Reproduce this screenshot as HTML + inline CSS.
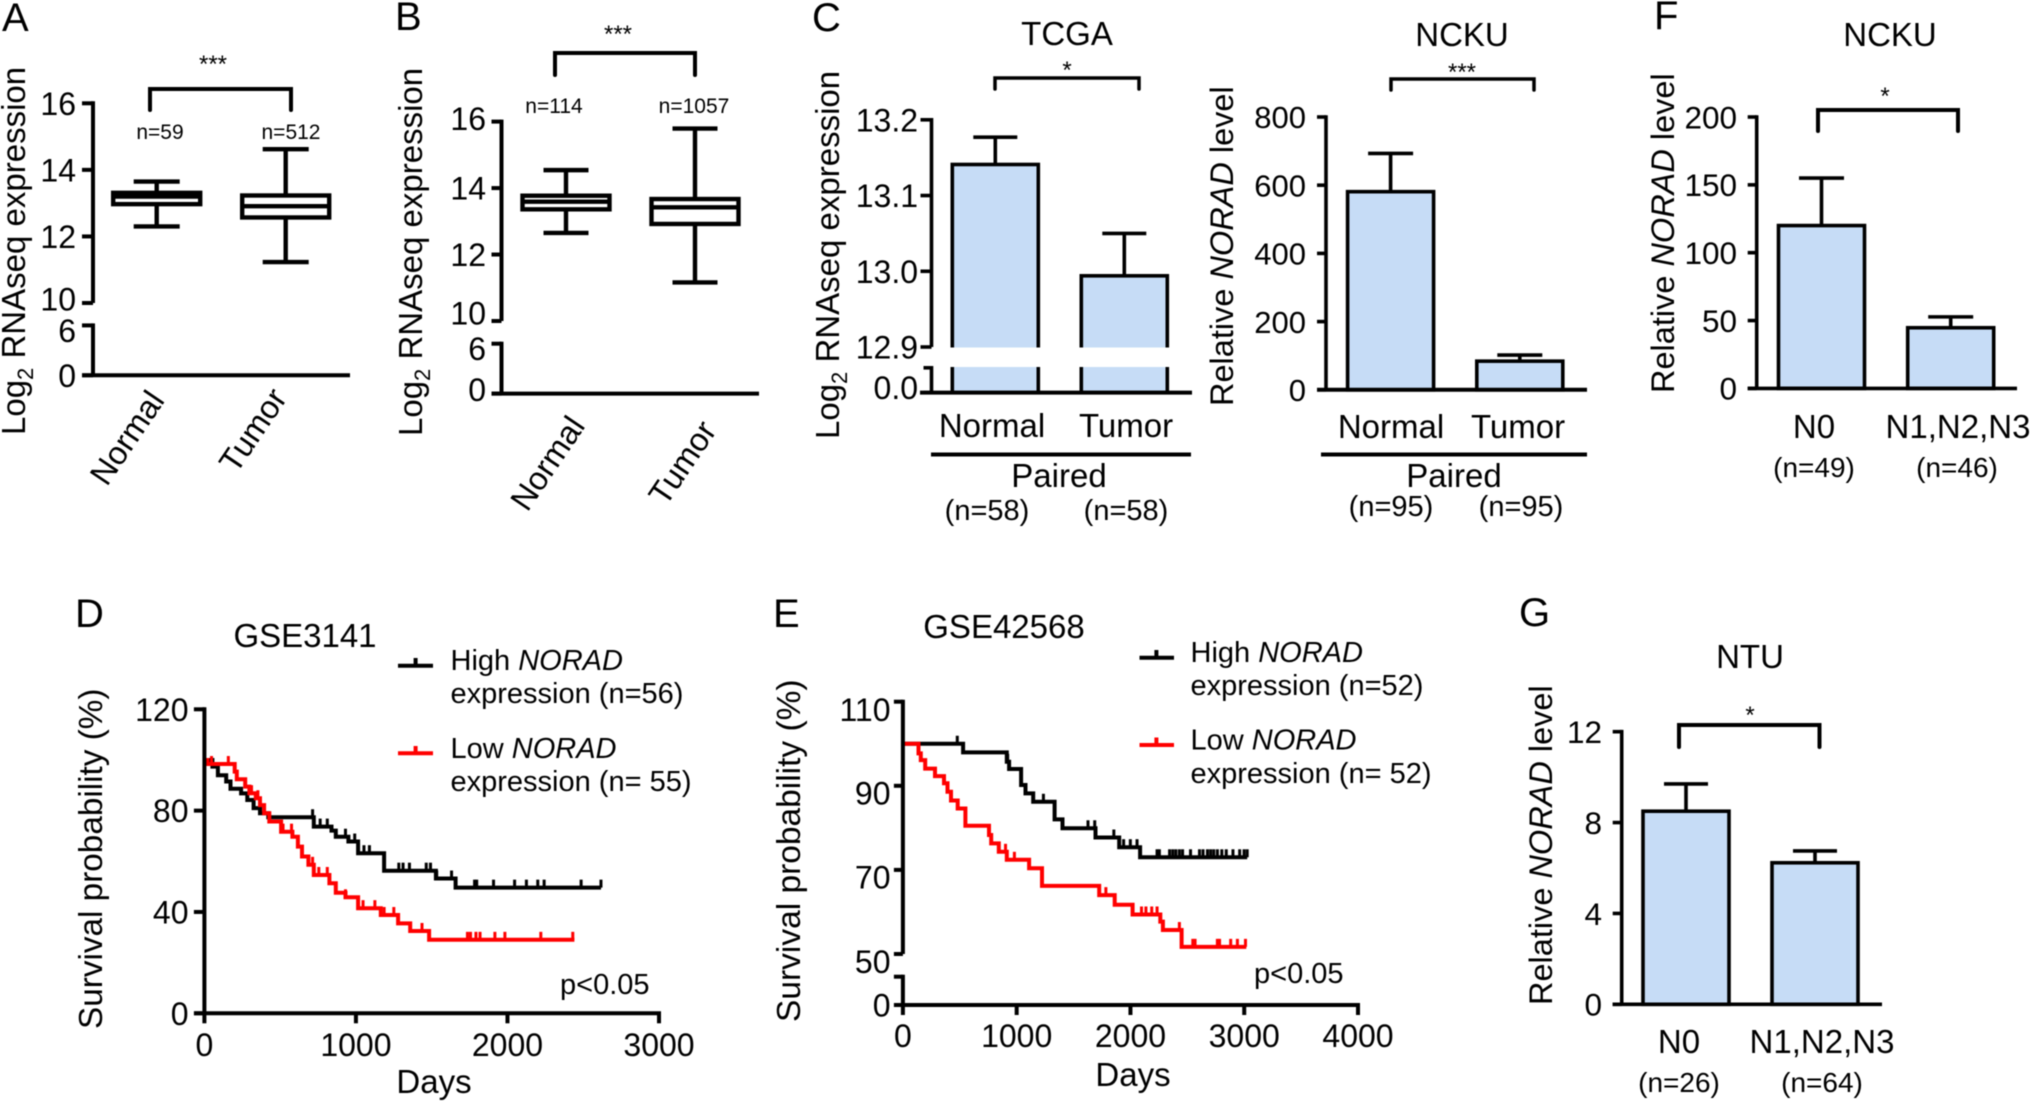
<!DOCTYPE html>
<html lang="en">
<head>
<meta charset="utf-8">
<title>NORAD expression figure</title>
<style>
html,body{margin:0;padding:0;background:#fff;width:2030px;height:1102px;overflow:hidden}
svg{display:block;filter:blur(0.4px)}
text{font-family:"Liberation Sans",sans-serif;fill:#000}
.letter{font-size:40px}
.title{font-size:33px;text-anchor:middle}
.ylab{font-size:33.3px}
.lab{font-size:33px;text-anchor:middle}
.cnt{font-size:29px;text-anchor:middle}
.sm{font-size:21px;text-anchor:middle}
.star{font-size:24px;text-anchor:middle}
.leg{font-size:29px}
.br{fill:none;stroke:#000;stroke-width:4;stroke-linecap:round;stroke-linejoin:miter}
</style>
</head>
<body>
<svg id="figure" xmlns="http://www.w3.org/2000/svg" width="2030" height="1102" viewBox="0 0 2030 1102">
<rect width="2030" height="1102" fill="#fff"/>

<g id="panel-a">
  <text class="letter" x="2" y="31">A</text>
  <text class="ylab" transform="translate(25,435) rotate(-90)" style="font-size:33px">Log<tspan dy="8" style="font-size:22px">2</tspan><tspan dy="-8"> RNAseq expression</tspan></text>
  <path class="br" d="M150 110V89H291V110"/>
  <text class="star" x="213" y="72">***</text>
  <text class="sm" x="160" y="139">n=59</text>
  <text class="sm" x="291" y="139">n=512</text>
  <text class="lab" style="font-size:32.5px;text-anchor:end" transform="translate(165.5,400.5) rotate(-56)">Normal</text>
  <text class="lab" style="font-size:32.5px;text-anchor:end" transform="translate(288,398) rotate(-56)">Tumor</text>
</g>

<g id="panel-b">
  <text class="letter" x="395" y="30">B</text>
  <text class="ylab" transform="translate(422,436) rotate(-90)" style="font-size:33px">Log<tspan dy="8" style="font-size:22px">2</tspan><tspan dy="-8"> RNAseq expression</tspan></text>
  <path class="br" d="M555 75V53H695V75"/>
  <text class="star" x="618" y="42">***</text>
  <text class="sm" x="554" y="113">n=114</text>
  <text class="sm" x="694" y="113">n=1057</text>
  <text class="lab" style="font-size:32.5px;text-anchor:end" transform="translate(586,426) rotate(-56)">Normal</text>
  <text class="lab" style="font-size:32.5px;text-anchor:end" transform="translate(717.5,430.5) rotate(-56)">Tumor</text>
</g>

<g id="panel-c1">
  <text class="letter" x="812" y="31">C</text>
  <text class="title" x="1067" y="45">TCGA</text>
  <text class="ylab" transform="translate(839,439) rotate(-90)" style="font-size:33px">Log<tspan dy="8" style="font-size:22px">2</tspan><tspan dy="-8"> RNAseq expression</tspan></text>
  <path class="br" style="stroke-width:3.5" d="M995 89V78H1139V89"/>
  <text class="star" x="1067" y="78">*</text>
  <text class="lab" x="992" y="437">Normal</text>
  <text class="lab" x="1126" y="437">Tumor</text>
  <line x1="931" x2="1191" y1="454.5" y2="454.5" stroke="#000" stroke-width="4"/>
  <text class="lab" x="1059" y="487">Paired</text>
  <text class="cnt" x="987" y="520">(n=58)</text>
  <text class="cnt" x="1126" y="520">(n=58)</text>
</g>

<g id="panel-c2">
  <text class="title" x="1462" y="46">NCKU</text>
  <text class="ylab" transform="translate(1233,406) rotate(-90)" style="font-size:32.5px">Relative <tspan font-style="italic">NORAD</tspan> level</text>
  <path class="br" style="stroke-width:3.5" d="M1391 90V79H1534V90"/>
  <text class="star" x="1462" y="80">***</text>
  <text class="lab" x="1391" y="438">Normal</text>
  <text class="lab" x="1518" y="438">Tumor</text>
  <line x1="1321" x2="1587" y1="454.5" y2="454.5" stroke="#000" stroke-width="4"/>
  <text class="lab" x="1454" y="487">Paired</text>
  <text class="cnt" x="1391" y="516">(n=95)</text>
  <text class="cnt" x="1521" y="516">(n=95)</text>
</g>

<g id="panel-f">
  <text class="letter" x="1654" y="29">F</text>
  <text class="title" x="1890" y="46">NCKU</text>
  <text class="ylab" transform="translate(1674,393) rotate(-90)" style="font-size:32.5px">Relative <tspan font-style="italic">NORAD</tspan> level</text>
  <path class="br" d="M1818 131V110H1958V131"/>
  <text class="star" x="1885" y="104">*</text>
  <text class="lab" x="1814" y="438">N0</text>
  <text class="lab" x="1958" y="438">N1,N2,N3</text>
  <text class="cnt" style="font-size:28px" x="1814" y="477">(n=49)</text>
  <text class="cnt" style="font-size:28px" x="1957" y="477">(n=46)</text>
</g>

<g id="panel-d">
  <text class="letter" x="75" y="627">D</text>
  <text class="title" x="305" y="647">GSE3141</text>
  <text class="ylab" transform="translate(102,1029) rotate(-90)">Survival probability (%)</text>
  <text class="lab" x="434" y="1093">Days</text>
  <g>
    <path d="M398 665.7H433M415.6 665.7V658" fill="none" stroke="#000" stroke-width="4"/>
    <text class="leg" x="450.5" y="670">High <tspan font-style="italic">NORAD</tspan></text>
    <text class="leg" x="450.5" y="703">expression (n=56)</text>
  </g>
  <g>
    <path d="M398 753.3H433M415.6 753.3V746" fill="none" stroke="#f00" stroke-width="4"/>
    <text class="leg" x="450.5" y="758">Low <tspan font-style="italic">NORAD</tspan></text>
    <text class="leg" x="450.5" y="791">expression (n= 55)</text>
  </g>
  <text class="cnt" style="text-anchor:start" x="560" y="994">p&lt;0.05</text>
</g>

<g id="panel-e">
  <text class="letter" x="773" y="627">E</text>
  <text class="title" x="1004" y="638">GSE42568</text>
  <text class="ylab" transform="translate(800,1022) rotate(-90)" style="font-size:33.5px">Survival probability (%)</text>
  <text class="lab" x="1133" y="1086">Days</text>
  <g>
    <path d="M1139.5 657.7H1174M1156.4 657.7V650" fill="none" stroke="#000" stroke-width="4"/>
    <text class="leg" x="1190.5" y="662">High <tspan font-style="italic">NORAD</tspan></text>
    <text class="leg" x="1190.5" y="695">expression (n=52)</text>
  </g>
  <g>
    <path d="M1139.5 745H1174M1156.4 745V737.5" fill="none" stroke="#f00" stroke-width="4"/>
    <text class="leg" x="1190.5" y="749.5">Low <tspan font-style="italic">NORAD</tspan></text>
    <text class="leg" x="1190.5" y="783">expression (n= 52)</text>
  </g>
  <text class="cnt" style="text-anchor:start" x="1254" y="983">p&lt;0.05</text>
</g>

<g id="panel-g">
  <text class="letter" x="1519" y="626">G</text>
  <text class="title" x="1750" y="668">NTU</text>
  <text class="ylab" transform="translate(1552,1005) rotate(-90)" style="font-size:32.5px">Relative <tspan font-style="italic">NORAD</tspan> level</text>
  <path class="br" d="M1679 747V725H1819.5V747"/>
  <text class="star" x="1750" y="723">*</text>
  <text class="lab" x="1679" y="1053">N0</text>
  <text class="lab" x="1822" y="1053">N1,N2,N3</text>
  <text class="cnt" style="font-size:28px" x="1679" y="1092">(n=26)</text>
  <text class="cnt" style="font-size:28px" x="1822" y="1092">(n=64)</text>
</g>
</svg>

<script>
// ---------- Panel A: box plot ----------
const aCategories = ['normal', 'tumor'];
const aWhiskerHigh = [13.65, 14.62];
const aQ3 = [13.31, 13.23];
const aMedian = [13.2, 12.91];
const aQ1 = [12.97, 12.57];
const aWhiskerLow = [12.3, 11.23];
const aTicksUpper = [10, 12, 14, 16];
const aTicksLower = [0, 6];
const aTickLabelsUpper = ['10', '12', '14', '16'];
const aTickLabelsLower = ['0', '6'];

// ---------- Panel B: box plot ----------
const bCategories = ['normal', 'tumor'];
const bWhiskerHigh = [14.54, 15.79];
const bQ3 = [13.77, 13.67];
const bMedian = [13.59, 13.42];
const bQ1 = [13.36, 12.92];
const bWhiskerLow = [12.65, 11.16];
const bTicksUpper = [10, 12, 14, 16];
const bTicksLower = [0, 6];
const bTickLabelsUpper = ['10', '12', '14', '16'];
const bTickLabelsLower = ['0', '6'];

// ---------- Panel C, TCGA: bars ----------
const tcgaCategories = ['normal', 'tumor'];
const tcgaMeans = [13.141, 12.994];
const tcgaErrorTops = [13.177, 13.05];
const tcgaTicksUpper = [12.9, 13.0, 13.1, 13.2];
const tcgaTicksLower = [0, 1];
const tcgaTickLabelsUpper = ['12.9', '13.0', '13.1', '13.2'];
const tcgaTickLabelsLower = ['0.0', ''];

// ---------- Panel C, NCKU: bars ----------
const ncCategories = ['normal', 'tumor'];
const ncMeans = [581, 84];
const ncErrorTops = [693, 102];
const ncTicks = [0, 200, 400, 600, 800];
const ncTickLabels = ['0', '200', '400', '600', '800'];

// ---------- Panel F: bars ----------
const fCategories = ['n0', 'n1-n2-n3'];
const fMeans = [120, 44.7];
const fErrorTops = [155, 52.7];
const fTicks = [0, 50, 100, 150, 200];
const fTickLabels = ['0', '50', '100', '150', '200'];

// ---------- Panel G: bars ----------
const gCategories = ['n0', 'n1-n2-n3'];
const gMeans = [8.5, 6.23];
const gErrorTops = [9.7, 6.75];
const gTicks = [0, 4, 8, 12];
const gTickLabels = ['0', '4', '8', '12'];

// ---------- Panel D: survival curves ----------
const dHighDays = [0, 53, 89, 144, 172, 242, 283, 325, 367, 422, 722, 839, 867, 950, 1014, 1186, 1528, 1658, 2617];
const dHighSurv = [100, 97.4, 94, 91.5, 88.6, 86.8, 84.2, 81, 79, 77.4, 73.7, 72.1, 69.7, 67.8, 63.2, 56.3, 53.2, 49.6, 49.6];
const dHighCensored = [714, 764, 811, 931, 992, 1053, 1089, 1283, 1311, 1353, 1464, 1492, 1533, 1631, 1783, 1797, 1908, 2047, 2125, 2200, 2242, 2486, 2617];
const dLowDays = [0, 20, 186, 200, 214, 269, 297, 339, 367, 394, 428, 506, 581, 617, 644, 686, 722, 825, 867, 931, 1014, 1164, 1278, 1358, 1483, 2442];
const dLowSurv = [100, 98.4, 98.4, 95.4, 92.4, 89.5, 86.9, 84.9, 82.2, 79, 75.7, 71.7, 69.7, 65.8, 61.9, 58.6, 54.6, 51.3, 47.6, 45.8, 41.5, 38.8, 35.5, 32.5, 29, 29];
const dLowCensored = [47, 158, 269, 311, 353, 519, 575, 714, 755, 811, 931, 1014, 1047, 1125, 1186, 1250, 1436, 1736, 1756, 1792, 1819, 1917, 1983, 2220, 2431];
const dXTicks = [0, 1000, 2000, 3000];
const dXTickLabels = ['0', '1000', '2000', '3000'];
const dYTicks = [0, 40, 80, 120];
const dYTickLabels = ['0', '40', '80', '120'];

// ---------- Panel E: survival curves ----------
const eHighDays = [0, 529, 913, 933, 1039, 1078, 1145, 1333, 1403, 1693, 1901, 2085, 3026];
const eHighSurv = [100, 97.95, 95.7, 94, 90.2, 88.2, 86.2, 82, 79.9, 77.7, 75.4, 73, 73];
const eHighCensored = [478, 921, 1235, 1627, 1686, 1854, 1940, 1999, 2058, 2234, 2254, 2344, 2372, 2399, 2430, 2458, 2528, 2607, 2638, 2677, 2705, 2732, 2764, 2803, 2842, 2901, 2960, 2999, 3026];
const eLowDays = [0, 137, 157, 196, 282, 361, 392, 423, 482, 549, 757, 776, 843, 913, 1109, 1223, 1725, 1862, 2019, 2262, 2285, 2450, 3018];
const eLowSurv = [100, 97.7, 96.1, 94.1, 92.3, 90.6, 88.6, 86.5, 84.6, 80.5, 78.3, 76.3, 74.3, 72.4, 70.4, 66.2, 64, 61.7, 59.4, 57.7, 55.7, 51.7, 51.7];
const eLowCensored = [902, 980, 1784, 2097, 2136, 2187, 2234, 2430, 2548, 2568, 2764, 2783, 2881, 2940, 3011];
const eXTicks = [0, 1000, 2000, 3000, 4000];
const eXTickLabels = ['0', '1000', '2000', '3000', '4000'];
const eYTicksUpper = [50, 70, 90, 110];
const eYTicksLower = [0, 10];
const eYTickLabelsUpper = ['50', '70', '90', '110'];
const eYTickLabelsLower = ['0', ''];

const NS = 'http://www.w3.org/2000/svg';
function mk(tag, attrs, parent, text) {
  const el = document.createElementNS(NS, tag);
  for (const k in attrs) el.setAttribute(k, attrs[k]);
  if (text !== undefined) el.textContent = text;
  parent.appendChild(el);
  return el;
}
function linear(d0, d1, r0, r1) {
  return v => r0 + (v - d0) / (d1 - d0) * (r1 - r0);
}
function broken(upper, lower) {
  const u = linear(upper[0], upper[1], upper[2], upper[3]);
  const l = linear(lower[0], lower[1], lower[2], lower[3]);
  return v => (v >= upper[0] ? u(v) : l(v));
}
function drawYAxis(panel, id, o) {
  const g = mk('g', {}, document.getElementById(panel));
  
  
  const sw = o.sw || 4;
  const line = mk('line', { x1: o.x, x2: o.x, y1: o.scale(o.top) - sw / 2, y2: o.scale(o.bottom), stroke: '#000', 'stroke-width': sw }, g);
  
  
  o.ticks.forEach((t, i) => {
    const y = o.scale(t);
    const tick = mk('line', { x1: o.x - o.tickLen, x2: o.x, y1: y, y2: y, stroke: '#000', 'stroke-width': sw }, g);
    
    
    if (o.labels[i] === '') return;
    const shift = (o.shift && o.shift[o.labels[i]]) || 0;
    const lab = mk('text', { x: o.labelX, y: y + o.font * 0.36 + shift, 'text-anchor': 'end', style: 'font-size:' + o.font + 'px' }, g, o.labels[i]);
    
    
  });
}
function drawXLine(panel, id, y, x0, x1, sw) {
  const l = mk('line', { x1: x0, x2: x1, y1: y, y2: y, stroke: '#000', 'stroke-width': sw || 4 }, document.getElementById(panel));
  
  
}
function drawBoxes(panel, id, cats, hi, q3, med, q1, lo, scale, cx0, step, hw, cap) {
  const parent = document.getElementById(panel);
  cats.forEach((c, i) => {
    const cx = cx0 + i * step;
    const g = mk('g', { fill: 'none', stroke: '#000', 'stroke-width': 4.4 }, parent);
    
    
    mk('line', { x1: cx, x2: cx, y1: scale(hi[i]), y2: scale(lo[i]) }, g);
    mk('line', { x1: cx - cap, x2: cx + cap, y1: scale(hi[i]), y2: scale(hi[i]) }, g);
    mk('line', { x1: cx - cap, x2: cx + cap, y1: scale(lo[i]), y2: scale(lo[i]) }, g);
    mk('rect', { x: cx - hw, y: scale(q3[i]), width: 2 * hw, height: scale(q1[i]) - scale(q3[i]), fill: '#fff' }, g);
    mk('line', { x1: cx - hw, x2: cx + hw, y1: scale(med[i]), y2: scale(med[i]) }, g);
  });
}
function drawBars(panel, id, cats, means, tops, scale, base, cx0, step, hw, cap) {
  const parent = document.getElementById(panel);
  cats.forEach((c, i) => {
    const cx = cx0 + i * step;
    const g = mk('g', { stroke: '#000', 'stroke-width': 3.6 }, parent);
    
    
    mk('line', { x1: cx, x2: cx, y1: scale(tops[i]), y2: scale(means[i]) }, g);
    mk('line', { x1: cx - cap, x2: cx + cap, y1: scale(tops[i]), y2: scale(tops[i]) }, g);
    mk('rect', { x: cx - hw, y: scale(means[i]), width: 2 * hw, height: scale(base) - scale(means[i]), fill: '#c6dcf6' }, g);
  });
}
function survivalAt(days, surv, d) {
  let s = surv[0];
  for (let i = 0; i < days.length; i++) if (days[i] <= d) s = surv[i];
  return s;
}
function drawCurve(panel, id, color, days, surv, censored, sx, sy) {
  const parent = document.getElementById(panel);
  const g = mk('g', { fill: 'none', stroke: color }, parent);
  
  
  let d = 'M' + sx(days[0]) + ' ' + sy(surv[0]);
  for (let i = 1; i < days.length; i++) {
    d += 'H' + sx(days[i]).toFixed(1) + 'V' + sy(surv[i]).toFixed(1);
  }
  mk('path', { d: d, 'stroke-width': 4 }, g);
  censored.forEach(c => {
    const y = sy(survivalAt(days, surv, c));
    const x = sx(c);
    const t = mk('line', { x1: x, x2: x, y1: y, y2: y - 8, 'stroke-width': 3 }, g);
    
    
  });
}
function drawXTicks(panel, id, ticks, labels, sx, y0, len, labelY, font) {
  const parent = document.getElementById(panel);
  ticks.forEach((t, i) => {
    const x = sx(t);
    const tick = mk('line', { x1: x, x2: x, y1: y0, y2: y0 + len, stroke: '#000', 'stroke-width': 4 }, parent);
    
    
    const lab = mk('text', { x: x, y: labelY, 'text-anchor': 'middle', style: 'font-size:' + font + 'px' }, parent, labels[i]);
    
    
  });
}

// Panel A
const aY = broken([10, 16, 303, 103.3], [0, 6, 375.3, 325.4]);
drawBoxes('panel-a', 'a', aCategories, aWhiskerHigh, aQ3, aMedian, aQ1, aWhiskerLow, aY, 156.7, 129, 43.5, 23);
drawYAxis('panel-a', 'a-upper', { scale: aY, x: 93, top: 16, bottom: 10, ticks: aTicksUpper, labels: aTickLabelsUpper, tickLen: 11, labelX: 76, font: 32, shift: { '10': -4 } });
drawYAxis('panel-a', 'a-lower', { scale: aY, x: 93, top: 6, bottom: 0, ticks: aTicksLower, labels: aTickLabelsLower, tickLen: 11, labelX: 76, font: 32, shift: { '6': 5 } });
drawXLine('panel-a', 'a', aY(0), 82, 350);

// Panel B
const bY = broken([10, 16, 321, 121.6], [0, 6, 393.6, 343.7]);
drawBoxes('panel-b', 'b', bCategories, bWhiskerHigh, bQ3, bMedian, bQ1, bWhiskerLow, bY, 566, 129, 43.5, 22.5);
drawYAxis('panel-b', 'b-upper', { scale: bY, x: 501.5, top: 16, bottom: 10, ticks: bTicksUpper, labels: bTickLabelsUpper, tickLen: 10, labelX: 486, font: 32, shift: { '10': -8, '16': -3 } });
drawYAxis('panel-b', 'b-lower', { scale: bY, x: 501.5, top: 6, bottom: 0, ticks: bTicksLower, labels: bTickLabelsLower, tickLen: 10, labelX: 486, font: 32, shift: { '6': 5, '0': -4 } });
drawXLine('panel-b', 'b', bY(0), 491.5, 759);

// Panel C, TCGA
const tcY = broken([12.9, 13.2, 347, 119.8], [0, 1, 392.6, 367.8]);
drawBars('panel-c1', 'tcga', tcgaCategories, tcgaMeans, tcgaErrorTops, tcY, 0, 995.3, 129, 43, 22);
const tcgaGap = mk('rect', { x: 925, y: 347.5, width: 270, height: 19.5, fill: '#fff' }, document.getElementById('panel-c1'));


drawYAxis('panel-c1', 'tcga-upper', { scale: tcY, x: 931.5, top: 13.2, bottom: 12.9, ticks: tcgaTicksUpper, labels: tcgaTickLabelsUpper, tickLen: 11, labelX: 918, font: 32, sw: 3.6 });
drawYAxis('panel-c1', 'tcga-lower', { scale: tcY, x: 931.5, top: 1, bottom: 0, ticks: tcgaTicksLower, labels: tcgaTickLabelsLower, tickLen: 8, labelX: 918, font: 32, sw: 3.6, shift: { '0.0': -5 } });
drawXLine('panel-c1', 'tcga', tcY(0), 920, 1192);

// Panel C, NCKU
const ncY = linear(0, 800, 389.8, 117);
drawBars('panel-c2', 'ncku-c', ncCategories, ncMeans, ncErrorTops, ncY, 0, 1390.6, 129.2, 43, 22.5);
drawYAxis('panel-c2', 'ncku-c', { scale: ncY, x: 1326, top: 800, bottom: 0, ticks: ncTicks, labels: ncTickLabels, tickLen: 9, labelX: 1306, font: 31, sw: 3.6 });
drawXLine('panel-c2', 'ncku-c', ncY(0), 1317, 1587);

// Panel F
const fY = linear(0, 200, 388.4, 117);
drawBars('panel-f', 'f', fCategories, fMeans, fErrorTops, fY, 0, 1821.5, 129.2, 43, 22.5);
drawYAxis('panel-f', 'f', { scale: fY, x: 1756.7, top: 200, bottom: 0, ticks: fTicks, labels: fTickLabels, tickLen: 9, labelX: 1737, font: 31.5, sw: 3.6 });
drawXLine('panel-f', 'f', fY(0), 1747.7, 2017, 3.6);

// Panel G
const gY = linear(0, 12, 1004.3, 731.7);
drawBars('panel-g', 'g', gCategories, gMeans, gErrorTops, gY, 0, 1686, 129, 43, 22);
drawYAxis('panel-g', 'g', { scale: gY, x: 1621.7, top: 12, bottom: 0, ticks: gTicks, labels: gTickLabels, tickLen: 9, labelX: 1602, font: 31.5, sw: 3.6 });
drawXLine('panel-g', 'g', gY(0), 1612.6, 1882, 3.6);

// Panel D
const dX = linear(0, 3000, 204.4, 659);
const dY = linear(0, 120, 1013.3, 709.3);
drawCurve('panel-d', 'high-d', '#000', dHighDays, dHighSurv, dHighCensored, dX, dY);
drawCurve('panel-d', 'low-d', '#f00', dLowDays, dLowSurv, dLowCensored, dX, dY);
drawYAxis('panel-d', 'd', { scale: dY, x: 204.4, top: 120, bottom: 0, ticks: dYTicks, labels: dYTickLabels, tickLen: 10.5, labelX: 188.5, font: 32 });
drawXLine('panel-d', 'd', dY(0), 194, 661);
drawXTicks('panel-d', 'd', dXTicks, dXTickLabels, dX, dY(0), 10, 1056, 32);

// Panel E
const eX = linear(0, 4000, 902.9, 1358);
const eY = broken([50, 110, 954, 701.7], [0, 10, 1005, 976.7]);
drawCurve('panel-e', 'high-e', '#000', eHighDays, eHighSurv, eHighCensored, eX, eY);
drawCurve('panel-e', 'low-e', '#f00', eLowDays, eLowSurv, eLowCensored, eX, eY);
drawYAxis('panel-e', 'e-upper', { scale: eY, x: 902.9, top: 110, bottom: 50, ticks: eYTicksUpper, labels: eYTickLabelsUpper, tickLen: 9, labelX: 890.5, font: 32, shift: { '110': 8, '90': 7, '70': 7, '50': 7.5 } });
drawYAxis('panel-e', 'e-lower', { scale: eY, x: 902.9, top: 10, bottom: 0, ticks: eYTicksLower, labels: eYTickLabelsLower, tickLen: 9, labelX: 890.5, font: 32 });
drawXLine('panel-e', 'e', eY(0), 894, 1360);
drawXTicks('panel-e', 'e', eXTicks, eXTickLabels, eX, eY(0), 10, 1047, 32);
</script>
</body>
</html>
